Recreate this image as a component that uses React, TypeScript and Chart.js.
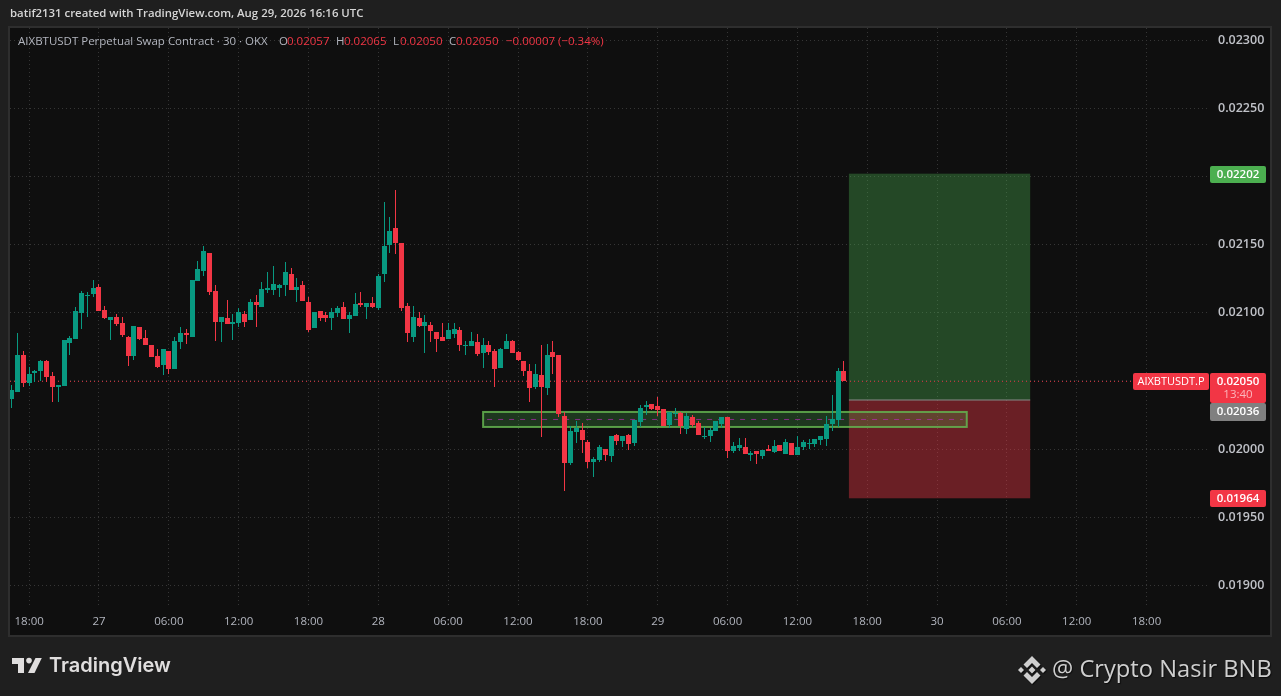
import React, { useEffect, useRef } from "react";
import { Chart, registerables } from "chart.js";

Chart.register(...registerables);

const opens = [
  0.02037, 0.020422, 0.020693, 0.020488, 0.020561, 0.020576, 0.020649, 0.020539, 0.020459, 0.020466, 0.02078, 0.02081,
  0.021, 0.021124, 0.021139, 0.02119, 0.021022, 0.020949, 0.020971, 0.020927, 0.020824, 0.020685, 0.020898, 0.020817,
  0.020766, 0.020685, 0.02062, 0.020722, 0.02059, 0.020788, 0.020854, 0.020824, 0.021234, 0.021307, 0.021439, 0.021161,
  0.020934, 0.020963, 0.02092, 0.020927, 0.020993, 0.020949, 0.02108, 0.021044, 0.021168, 0.021168, 0.021183, 0.021205,
  0.021285, 0.021168, 0.021205, 0.02108, 0.02089, 0.021015, 0.020985, 0.020963, 0.021, 0.021044, 0.020956, 0.020978,
  0.021073, 0.021044, 0.021073, 0.021037, 0.021285, 0.021498, 0.021622, 0.021512, 0.021051, 0.020824, 0.020963, 0.020905,
  0.020912, 0.020861, 0.020824, 0.02081, 0.020846, 0.020876, 0.020759, 0.020759, 0.020788, 0.020707, 0.020766, 0.020722,
  0.020598, 0.020737, 0.020795, 0.020715, 0.020649, 0.020576, 0.020459, 0.020546, 0.020451, 0.020715, 0.020694, 0.020245,
  0.0199, 0.020127, 0.020142, 0.020054, 0.019907, 0.019922, 0.020002, 0.019951, 0.020105, 0.020061, 0.020105, 0.020047,
  0.020201, 0.020311, 0.020333, 0.020319, 0.020297, 0.020179, 0.02026, 0.020267, 0.02015, 0.020238, 0.020194, 0.020091,
  0.020098, 0.020135, 0.020186, 0.020238, 0.019988, 0.02001, 0.020017, 0.019958, 0.019988, 0.019951, 0.020002, 0.01998,
  0.020032, 0.019966, 0.020047, 0.019958, 0.020017, 0.020039, 0.020039, 0.020069, 0.020076, 0.020186, 0.020216, 0.02057,
];
const highs = [
  0.020473, 0.020854, 0.020722, 0.020605, 0.020583, 0.020656, 0.020656, 0.020568, 0.020473, 0.020802, 0.020832, 0.021044,
  0.021161, 0.021154, 0.021241, 0.021212, 0.021051, 0.020971, 0.020993, 0.020971, 0.020832, 0.020905, 0.020898, 0.020876,
  0.020766, 0.020737, 0.020737, 0.020722, 0.020824, 0.020898, 0.020883, 0.021241, 0.02138, 0.02149, 0.021439, 0.021205,
  0.020971, 0.021095, 0.020993, 0.021037, 0.021015, 0.021102, 0.021132, 0.021227, 0.0213, 0.021344, 0.021212, 0.021373,
  0.021329, 0.021256, 0.021234, 0.021117, 0.021007, 0.021015, 0.021007, 0.021037, 0.021051, 0.02108, 0.021007, 0.021146,
  0.021154, 0.021073, 0.021117, 0.021285, 0.021812, 0.021702, 0.0219, 0.021512, 0.021073, 0.021051, 0.021007, 0.020985,
  0.020934, 0.020861, 0.020927, 0.020927, 0.020927, 0.020898, 0.020795, 0.020861, 0.020846, 0.020817, 0.020795, 0.020737,
  0.020744, 0.020846, 0.020802, 0.020722, 0.020649, 0.020627, 0.020627, 0.020766, 0.020773, 0.020795, 0.020694, 0.020275,
  0.020172, 0.020208, 0.020194, 0.020069, 0.019944, 0.020032, 0.020002, 0.020098, 0.020113, 0.020098, 0.020113, 0.020216,
  0.020326, 0.020355, 0.020333, 0.020385, 0.020297, 0.020275, 0.020304, 0.020275, 0.020267, 0.020252, 0.020208, 0.020164,
  0.020157, 0.020208, 0.020238, 0.020238, 0.020054, 0.020083, 0.020083, 0.019988, 0.019988, 0.019995, 0.020032, 0.020069,
  0.020032, 0.020076, 0.020047, 0.020098, 0.020069, 0.020076, 0.020076, 0.020098, 0.020245, 0.0204, 0.020598, 0.02065,
];
const lows = [
  0.020305, 0.020417, 0.020459, 0.020466, 0.020495, 0.020502, 0.020495, 0.020349, 0.020349, 0.020466, 0.020693, 0.02081,
  0.020883, 0.020971, 0.021117, 0.021015, 0.020956, 0.020802, 0.020905, 0.020824, 0.020612, 0.020656, 0.020802, 0.020766,
  0.020678, 0.020598, 0.020546, 0.020554, 0.02059, 0.020737, 0.020773, 0.020824, 0.021234, 0.021271, 0.021132, 0.020795,
  0.020788, 0.02092, 0.020802, 0.020898, 0.020898, 0.020949, 0.020898, 0.021044, 0.021146, 0.021132, 0.021117, 0.021124,
  0.021168, 0.02108, 0.021088, 0.020861, 0.02089, 0.020941, 0.020934, 0.020876, 0.020971, 0.020956, 0.020854, 0.020978,
  0.021044, 0.020956, 0.021037, 0.021022, 0.021227, 0.021439, 0.021432, 0.021015, 0.020788, 0.020788, 0.020898, 0.020707,
  0.020788, 0.020715, 0.020795, 0.02081, 0.020817, 0.020722, 0.020693, 0.020759, 0.020685, 0.020598, 0.020693, 0.020459,
  0.020598, 0.020737, 0.020707, 0.020649, 0.020539, 0.020349, 0.020444, 0.020086, 0.0204, 0.020554, 0.020238, 0.019694,
  0.019885, 0.020047, 0.019973, 0.019863, 0.019797, 0.019907, 0.019914, 0.019907, 0.020032, 0.020017, 0.019995, 0.020025,
  0.020164, 0.020252, 0.02029, 0.020245, 0.020172, 0.020157, 0.020238, 0.020113, 0.020113, 0.020164, 0.020105, 0.020076,
  0.020054, 0.020135, 0.020157, 0.019936, 0.019973, 0.019988, 0.019966, 0.019914, 0.019892, 0.019929, 0.019988, 0.019973,
  0.019988, 0.019966, 0.019958, 0.019958, 0.019995, 0.020002, 0.020017, 0.020032, 0.020025, 0.020135, 0.020164, 0.0205,
];
const closes = [
  0.020437, 0.020693, 0.020488, 0.020554, 0.020576, 0.020649, 0.020532, 0.020459, 0.020473, 0.020802, 0.020817, 0.021015,
  0.021146, 0.021132, 0.021183, 0.021015, 0.020963, 0.020971, 0.02092, 0.020839, 0.020685, 0.020905, 0.02081, 0.020766,
  0.020678, 0.020605, 0.020737, 0.02059, 0.020795, 0.020854, 0.020839, 0.021241, 0.021322, 0.021454, 0.021154, 0.020934,
  0.020971, 0.02092, 0.020934, 0.021007, 0.020934, 0.02108, 0.021059, 0.021176, 0.021183, 0.021212, 0.021205, 0.0213,
  0.021168, 0.02119, 0.021088, 0.020876, 0.021007, 0.020963, 0.020963, 0.021007, 0.021037, 0.020956, 0.020985, 0.021066,
  0.021059, 0.021073, 0.021044, 0.021271, 0.02149, 0.0216, 0.021512, 0.021037, 0.020854, 0.020971, 0.020905, 0.020934,
  0.020868, 0.02081, 0.020795, 0.020876, 0.020883, 0.020766, 0.020766, 0.020795, 0.0207, 0.020766, 0.020715, 0.02059,
  0.020737, 0.020795, 0.020707, 0.020656, 0.020576, 0.020451, 0.020554, 0.020459, 0.020693, 0.020678, 0.02026, 0.0199,
  0.020135, 0.020157, 0.020069, 0.019907, 0.019929, 0.020017, 0.019958, 0.020098, 0.020061, 0.020098, 0.020039, 0.020216,
  0.020304, 0.020326, 0.020297, 0.020289, 0.020172, 0.020275, 0.020267, 0.020172, 0.020245, 0.020179, 0.020105, 0.020098,
  0.020142, 0.020208, 0.020238, 0.019988, 0.020025, 0.020032, 0.019966, 0.019973, 0.019966, 0.019995, 0.019988, 0.020025,
  0.019988, 0.020054, 0.019958, 0.020017, 0.020054, 0.020047, 0.020076, 0.020098, 0.020186, 0.020223, 0.02057, 0.0205,
];

const priceTicks = [0.019, 0.0195, 0.02, 0.0205, 0.021, 0.0215, 0.022, 0.0225, 0.023];
const timeTickSlots = [3, 15, 27, 39, 51, 63, 75, 87, 99, 111, 123, 135, 147, 159, 171, 183, 195];
const timeTickLabels = ["18:00", "27", "06:00", "12:00", "18:00", "28", "06:00", "12:00", "18:00", "29", "06:00", "12:00", "18:00", "30", "06:00", "12:00", "18:00"];

const lastPrice = 0.0205;
const entryPrice = 0.02036;
const targetPrice = 0.02202;
const stopPrice = 0.01964;
const positionSlots = [143.85, 175];
const zoneSlots = [81, 164.1];
const zonePrices = [0.020273, 0.020163];
const zoneMidPrice = 0.020218;

const UP = "#089981";
const DOWN = "#f23645";
const UI = '"Open Sans", "Noto Sans", sans-serif';

const xs = opens.map((_, i) => i);
const colors = opens.map((o, i) => (closes[i] >= o ? UP : DOWN));

function tag(ctx: CanvasRenderingContext2D, x: number, y: number, w: number, h: number, fill: string, r = 2) {
  ctx.fillStyle = fill;
  ctx.beginPath();
  ctx.roundRect(x, y, w, h, r);
  ctx.fill();
}

function text(ctx: CanvasRenderingContext2D, s: string, x: number, y: number, color: string, font: string, align: CanvasTextAlign = "left") {
  ctx.fillStyle = color;
  ctx.font = font;
  ctx.textAlign = align;
  ctx.textBaseline = "middle";
  ctx.fillText(s, x, y);
}

const snapPlugin = {
  id: "snap",
  afterDatasetsUpdate(chart: any) {
    chart.data.datasets.forEach((_: any, d: number) => {
      chart.getDatasetMeta(d).data.forEach((el: any) => {
        el.x = Math.floor(el.x) + 0.5;
        el.y = Math.round(el.y);
        el.base = Math.round(el.base);
        if (el.base === el.y) el.base = el.y + 1;
        el.height = el.base - el.y;
      });
    });
  },
};

const framePlugin = {
  id: "frame",
  beforeDraw(chart: any) {
    const { ctx, width, height } = chart;
    ctx.save();
    ctx.fillStyle = "#1f1f1f";
    ctx.fillRect(0, 0, width, height);
    ctx.fillStyle = "#2e2e2e";
    ctx.fillRect(8, 26, 1264, 611);
    ctx.fillStyle = "#0f0f0f";
    ctx.fillRect(10, 28, 1260, 607);
    ctx.restore();
  },
};

const overlayPlugin = {
  id: "overlay",
  beforeDatasetsDraw(chart: any) {
    const { ctx, scales } = chart;
    const { x, y } = scales;
    ctx.save();
    // long position tool
    const l = x.getPixelForValue(positionSlots[0]);
    const r = x.getPixelForValue(positionSlots[1]);
    const yT = y.getPixelForValue(targetPrice);
    const yE = y.getPixelForValue(entryPrice);
    const yS = y.getPixelForValue(stopPrice);
    ctx.fillStyle = "rgba(76,175,80,0.36)";
    ctx.fillRect(l, yT, r - l, yE - yT);
    ctx.fillStyle = "rgba(242,54,69,0.4)";
    ctx.fillRect(l, yE, r - l, yS - yE);
    ctx.fillStyle = "#8a8a8a";
    ctx.fillRect(l, Math.round(yE) - 0.5, r - l, 1);
    // support zone
    const zl = x.getPixelForValue(zoneSlots[0]);
    const zr = x.getPixelForValue(zoneSlots[1]);
    const zt = y.getPixelForValue(zonePrices[0]);
    const zb = y.getPixelForValue(zonePrices[1]);
    ctx.fillStyle = "rgba(76,175,80,0.25)";
    ctx.fillRect(zl, zt, zr - zl, zb - zt);
    ctx.strokeStyle = "rgba(100,180,80,0.85)";
    ctx.lineWidth = 2;
    ctx.strokeRect(zl, zt, zr - zl, zb - zt);
    const zm = y.getPixelForValue(zoneMidPrice);
    ctx.strokeStyle = "rgba(190,40,190,0.65)";
    ctx.lineWidth = 1;
    ctx.setLineDash([5, 6]);
    ctx.beginPath();
    ctx.moveTo(zl + 4, zm);
    ctx.lineTo(zr - 4, zm);
    ctx.stroke();
    // last price line
    const yL = Math.round(y.getPixelForValue(lastPrice)) + 0.5;
    ctx.strokeStyle = "#c22f3c";
    ctx.setLineDash([1, 3]);
    ctx.beginPath();
    ctx.moveTo(chart.chartArea.left, yL);
    ctx.lineTo(1133, yL);
    ctx.stroke();
    ctx.restore();
  },
  afterDraw(chart: any) {
    const { ctx, scales } = chart;
    const { y } = scales;
    ctx.save();
    const priceFont = `600 11.5px ${UI}`;
    const yL = Math.round(y.getPixelForValue(lastPrice));
    tag(ctx, 1133, yL - 8, 76, 17, DOWN);
    text(ctx, "AIXBTUSDT.P", 1171, yL + 1, "#ffffff", `500 11px ${UI}`, "center");
    tag(ctx, 1210, yL - 8, 56, 30, DOWN);
    text(ctx, lastPrice.toFixed(5), 1238, yL + 0.5, "#ffffff", priceFont, "center");
    text(ctx, "13:40", 1238, yL + 14, "#fbb6bc", `400 11.5px ${UI}`, "center");
    // the entry tag is pushed below the last-price tag, which it would overlap
    const entryTop = Math.max(Math.round(y.getPixelForValue(entryPrice)) - 8, yL + 22);
    tag(ctx, 1210, entryTop, 56, 18, "#808080");
    text(ctx, entryPrice.toFixed(5), 1238, entryTop + 9, "#ffffff", priceFont, "center");
    const yT = Math.round(y.getPixelForValue(targetPrice));
    tag(ctx, 1210, yT - 8, 56, 17, "#4caf50");
    text(ctx, targetPrice.toFixed(5), 1238, yT + 1, "#ffffff", priceFont, "center");
    const yS = Math.round(y.getPixelForValue(stopPrice));
    tag(ctx, 1210, yS - 8, 56, 17, DOWN);
    text(ctx, stopPrice.toFixed(5), 1238, yS + 1, "#ffffff", priceFont, "center");

    // headers
    text(ctx, "batif2131 created with TradingView.com, Aug 29, 2026 16:16 UTC", 10, 14, "#d6d6d6", `600 11.4px ${UI}`);
    const head = `400 11.5px ${UI}`;
    const gray = "#b2b5be";
    const red = "#f23645";
    text(ctx, "AIXBTUSDT Perpetual Swap Contract · 30 · OKX", 18, 42, gray, head);
    text(ctx, "O", 279, 42, gray, head);
    text(ctx, "0.02057", 287, 42, red, head);
    text(ctx, "H", 336, 42, gray, head);
    text(ctx, "0.02065", 344, 42, red, head);
    text(ctx, "L", 393, 42, gray, head);
    text(ctx, "0.02050", 400, 42, red, head);
    text(ctx, "C", 449, 42, gray, head);
    text(ctx, "0.02050", 456, 42, red, head);
    text(ctx, "−0.00007 (−0.34%)", 506, 42, red, head);

    // TradingView logo
    ctx.fillStyle = "#e0dede";
    ctx.beginPath();
    ctx.moveTo(12, 658); ctx.lineTo(24, 658); ctx.lineTo(24, 673); ctx.lineTo(18, 673); ctx.lineTo(18, 664); ctx.lineTo(12, 664);
    ctx.closePath();
    ctx.fill();
    ctx.beginPath();
    ctx.arc(29, 660.6, 2.8, 0, Math.PI * 2);
    ctx.fill();
    ctx.beginPath();
    ctx.moveTo(35.5, 658); ctx.lineTo(41.8, 658); ctx.lineTo(34.5, 673); ctx.lineTo(28, 673);
    ctx.closePath();
    ctx.fill();
    text(ctx, "TradingView", 49, 666, "#e0dede", `600 20px Inter, ${UI}`);

    // watermark
    ctx.shadowColor = "rgba(0,0,0,0.6)";
    ctx.shadowBlur = 1;
    ctx.shadowOffsetX = 1;
    ctx.shadowOffsetY = 1;
    text(ctx, "@ Crypto Nasir BNB", 1052, 670, "#cfcfcf", `400 23.7px ${UI}`);
    const cx = 1032, cy = 670;
    ctx.fillStyle = "#cfcfcf";
    const poly = (pts: number[][]) => {
      ctx.beginPath();
      pts.forEach(([dx, dy], i) => (i ? ctx.lineTo(cx + dx, cy + dy) : ctx.moveTo(cx + dx, cy + dy)));
      ctx.closePath();
      ctx.fill();
    };
    poly([[0, -14], [8.5, -5.5], [5, -2], [0, -7], [-5, -2], [-8.5, -5.5]]);
    poly([[0, 14], [8.5, 5.5], [5, 2], [0, 7], [-5, 2], [-8.5, 5.5]]);
    poly([[-14, 0], [-11, -3], [-8, 0], [-11, 3]]);
    poly([[14, 0], [11, -3], [8, 0], [11, 3]]);
    poly([[0, -3.5], [3.5, 0], [0, 3.5], [-3.5, 0]]);
    ctx.restore();
  },
};

export default function App() {
  const ref = useRef<HTMLCanvasElement | null>(null);
  useEffect(() => {
    document.body.style.margin = "0";
    document.body.style.overflow = "hidden";
    const chart = new Chart(ref.current as HTMLCanvasElement, {
      type: "bar",
      data: {
        datasets: [
          {
            label: "body",
            data: xs.map((i) => ({ x: i, y: [opens[i], closes[i]] })),
            backgroundColor: colors,
            barThickness: 5,
            grouped: false,
            inflateAmount: 0,
            borderWidth: 0,
          },
          {
            label: "wick",
            data: xs.map((i) => ({ x: i, y: [lows[i], highs[i]] })),
            backgroundColor: colors,
            barThickness: 1,
            grouped: false,
            inflateAmount: 0,
            borderWidth: 0,
          },
        ] as any,
      },
      plugins: [framePlugin, snapPlugin, overlayPlugin],
      options: {
        responsive: false,
        animation: false,
        events: [],
        layout: { padding: { left: 10, top: 28, right: 11, bottom: 61 } },
        plugins: { legend: { display: false }, tooltip: { enabled: false }, title: { display: false } },
        scales: {
          x: {
            type: "linear",
            offset: false,
            min: -0.29,
            max: 205.55,
            afterFit(s: any) {
              s.height = 28;
            },
            afterBuildTicks(s: any) {
              s.ticks = timeTickSlots.map((value) => ({ value }));
            },
            grid: { color: "#363636", offset: false, drawTicks: false, lineWidth: 1 },
            border: { display: false, dash: [1, 3] },
            ticks: {
              autoSkip: false,
              maxRotation: 0,
              minRotation: 0,
              padding: 8,
              color: "#b2b5be",
              font: { family: UI, size: 11.5, weight: 400 },
              callback: (_v: any, i: number) => timeTickLabels[i],
            },
          },
          y: {
            type: "linear",
            position: "right",
            min: 0.018843,
            max: 0.023088,
            afterFit(s: any) {
              s.width = 62;
            },
            afterBuildTicks(s: any) {
              s.ticks = priceTicks.map((value) => ({ value }));
            },
            grid: { color: "#363636", drawTicks: false, lineWidth: 1 },
            border: { display: false, dash: [1, 3] },
            ticks: {
              autoSkip: false,
              padding: 10,
              color: "#bfc1c7",
              font: { family: UI, size: 12.5, weight: 600 },
              callback: (v: any) => Number(v).toFixed(5),
            },
          },
        },
      } as any,
    });
    return () => chart.destroy();
  }, []);
  return <canvas ref={ref} width={1281} height={696} style={{ display: "block", position: "absolute", left: 0, top: 0, width: 1281, height: 696 }} />;
}
